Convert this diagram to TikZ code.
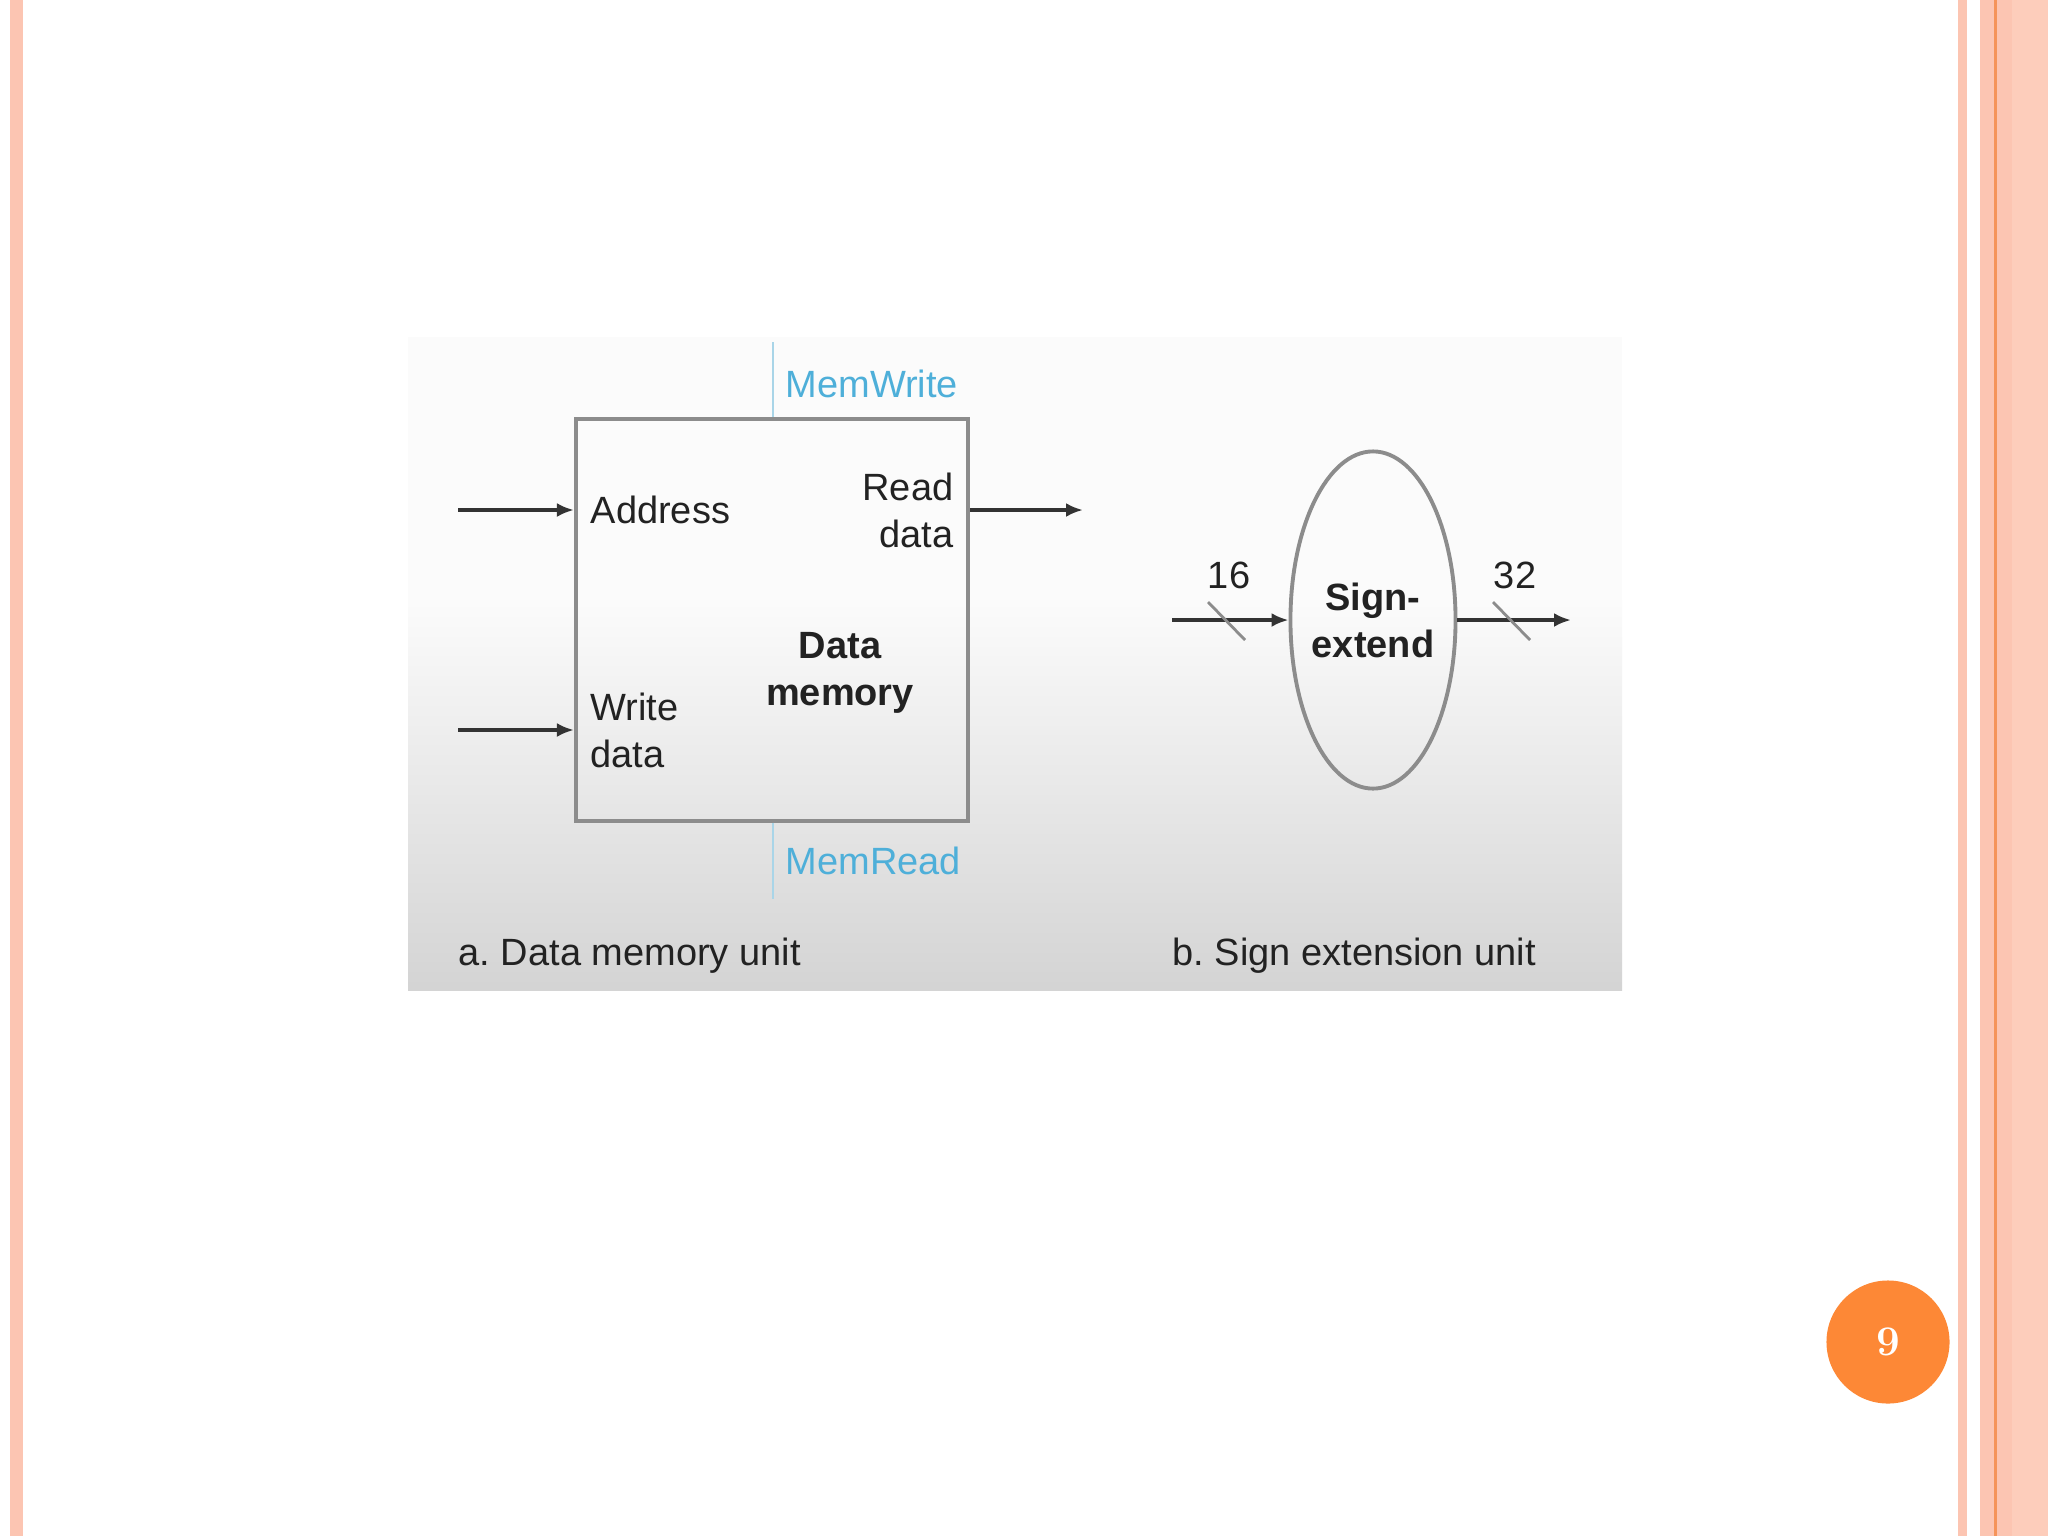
\documentclass[tikz,border=0pt]{standalone}
\usepackage{fontspec}
\newfontfamily\arial{Liberation Sans}
\usetikzlibrary{arrows.meta,shapes.geometric}
\definecolor{stripe}{HTML}{FCC5B2}
\definecolor{stripeB}{HTML}{FDCDBB}
\definecolor{stripeO}{HTML}{F5945A}
\definecolor{ctrlblue}{HTML}{4EAFD9}
\definecolor{ctrlline}{HTML}{A9D5E8}
\definecolor{boxgray}{HTML}{8C8C8C}
\definecolor{wire}{HTML}{333333}
\definecolor{txt}{HTML}{222222}
\definecolor{pgorange}{HTML}{FD8836}
\frenchspacing
\begin{document}
\begin{tikzpicture}[x=0.01cm,y=-0.01cm,
  lbl/.style={font=\arial\fontsize{10.8}{13.4}\selectfont, inner sep=0pt, text=txt},
  blbl/.style={font=\arial\bfseries\fontsize{10.8}{13.4}\selectfont, inner sep=0pt, align=center, text=txt},
  ctrl/.style={lbl, text=ctrlblue},
  ctrlwire/.style={draw=ctrlline, line width=0.6pt},
  wirearrow/.style={draw=wire, line width=1pt, -{Latex[length=0.17cm,width=0.14cm]}},
  slash/.style={draw=black!45, line width=0.8pt},
  unitbox/.style={draw=boxgray, line width=1.1pt, minimum width=3.92cm, minimum height=4.01cm, inner sep=0pt},
  unitell/.style={ellipse, draw=boxgray, line width=1.1pt, minimum width=1.65cm, minimum height=3.37cm, inner sep=0pt}
]
\useasboundingbox (0,0) rectangle (2048,1536);
\fill[white] (0,0) rectangle (2048,1536);
% slide borders
\fill[stripe] (10,0) rectangle (23,1536);
\fill[stripe] (1958,0) rectangle (1967,1536);
\fill[stripe] (1980,0) rectangle (2012,1536);
\fill[stripeB] (2012,0) rectangle (2048,1536);
\fill[stripeO] (1994,0) rectangle (1997,1536);
% picture background
\fill[black!1.5] (408,337) rectangle (1622,600);
\shade[top color=black!1.5, bottom color=black!17] (408,600) rectangle (1622,990);

% (a) data memory
\node[unitbox] (mem) at (772,620) {};
\node[lbl, anchor=west] (addr) at (590,510) {Address};
\node[lbl, anchor=east, align=right] (rd) at (954,510) {Read\\data};
\node[blbl] (dm) at (840,673) {Data\\memory};
\node[lbl, anchor=west, align=left] (wd) at (590,730) {Write\\data};
\node[ctrl, anchor=west] (mw) at (785,384) {MemWrite};
\node[ctrl, anchor=west] (mr) at (785,861) {MemRead};
\coordinate (mwTop) at (773,342);
\coordinate (mrBot) at (773,899);
\coordinate (addrIn) at (458,510);
\coordinate (wdIn) at (458,730);
\coordinate (rdOut) at (1083,510);
\draw[ctrlwire] (mwTop) -- (mwTop |- mem.north);
\draw[ctrlwire] (mrBot |- mem.south) -- (mrBot);
\draw[wirearrow] (addrIn) -- (mem.west |- addrIn);
\draw[wirearrow] (wdIn) -- (mem.west |- wdIn);
\draw[wirearrow] (mem.east |- rdOut) -- (rdOut);
\node[lbl, anchor=west] (capa) at (458,956) {a. Data memory unit};

% (b) sign extension
\node[unitell] (se) at (1373,620) {};
\node[blbl] (setext) at (1373,620) {Sign-\\extend};
\coordinate (sIn) at (1172,620);
\coordinate (sOut) at (1571,620);
\draw[wirearrow] (sIn) -- (se.west);
\draw[wirearrow] (se.east) -- (sOut);
\draw[slash] (1208,602) -- (1245,640);
\draw[slash] (1493,602) -- (1530,640);
\node[lbl] (n16) at (1229,575) {16};
\node[lbl] (n32) at (1515,575) {32};
\node[lbl, anchor=west] (capb) at (1172,956) {b. Sign extension unit};

% page number
\node[circle, fill=pgorange, minimum size=1.23cm, inner sep=0pt, text=white,
      font=\bfseries\fontsize{12}{14}\selectfont] (pg) at (1888,1342) {9};
\end{tikzpicture}
\end{document}
